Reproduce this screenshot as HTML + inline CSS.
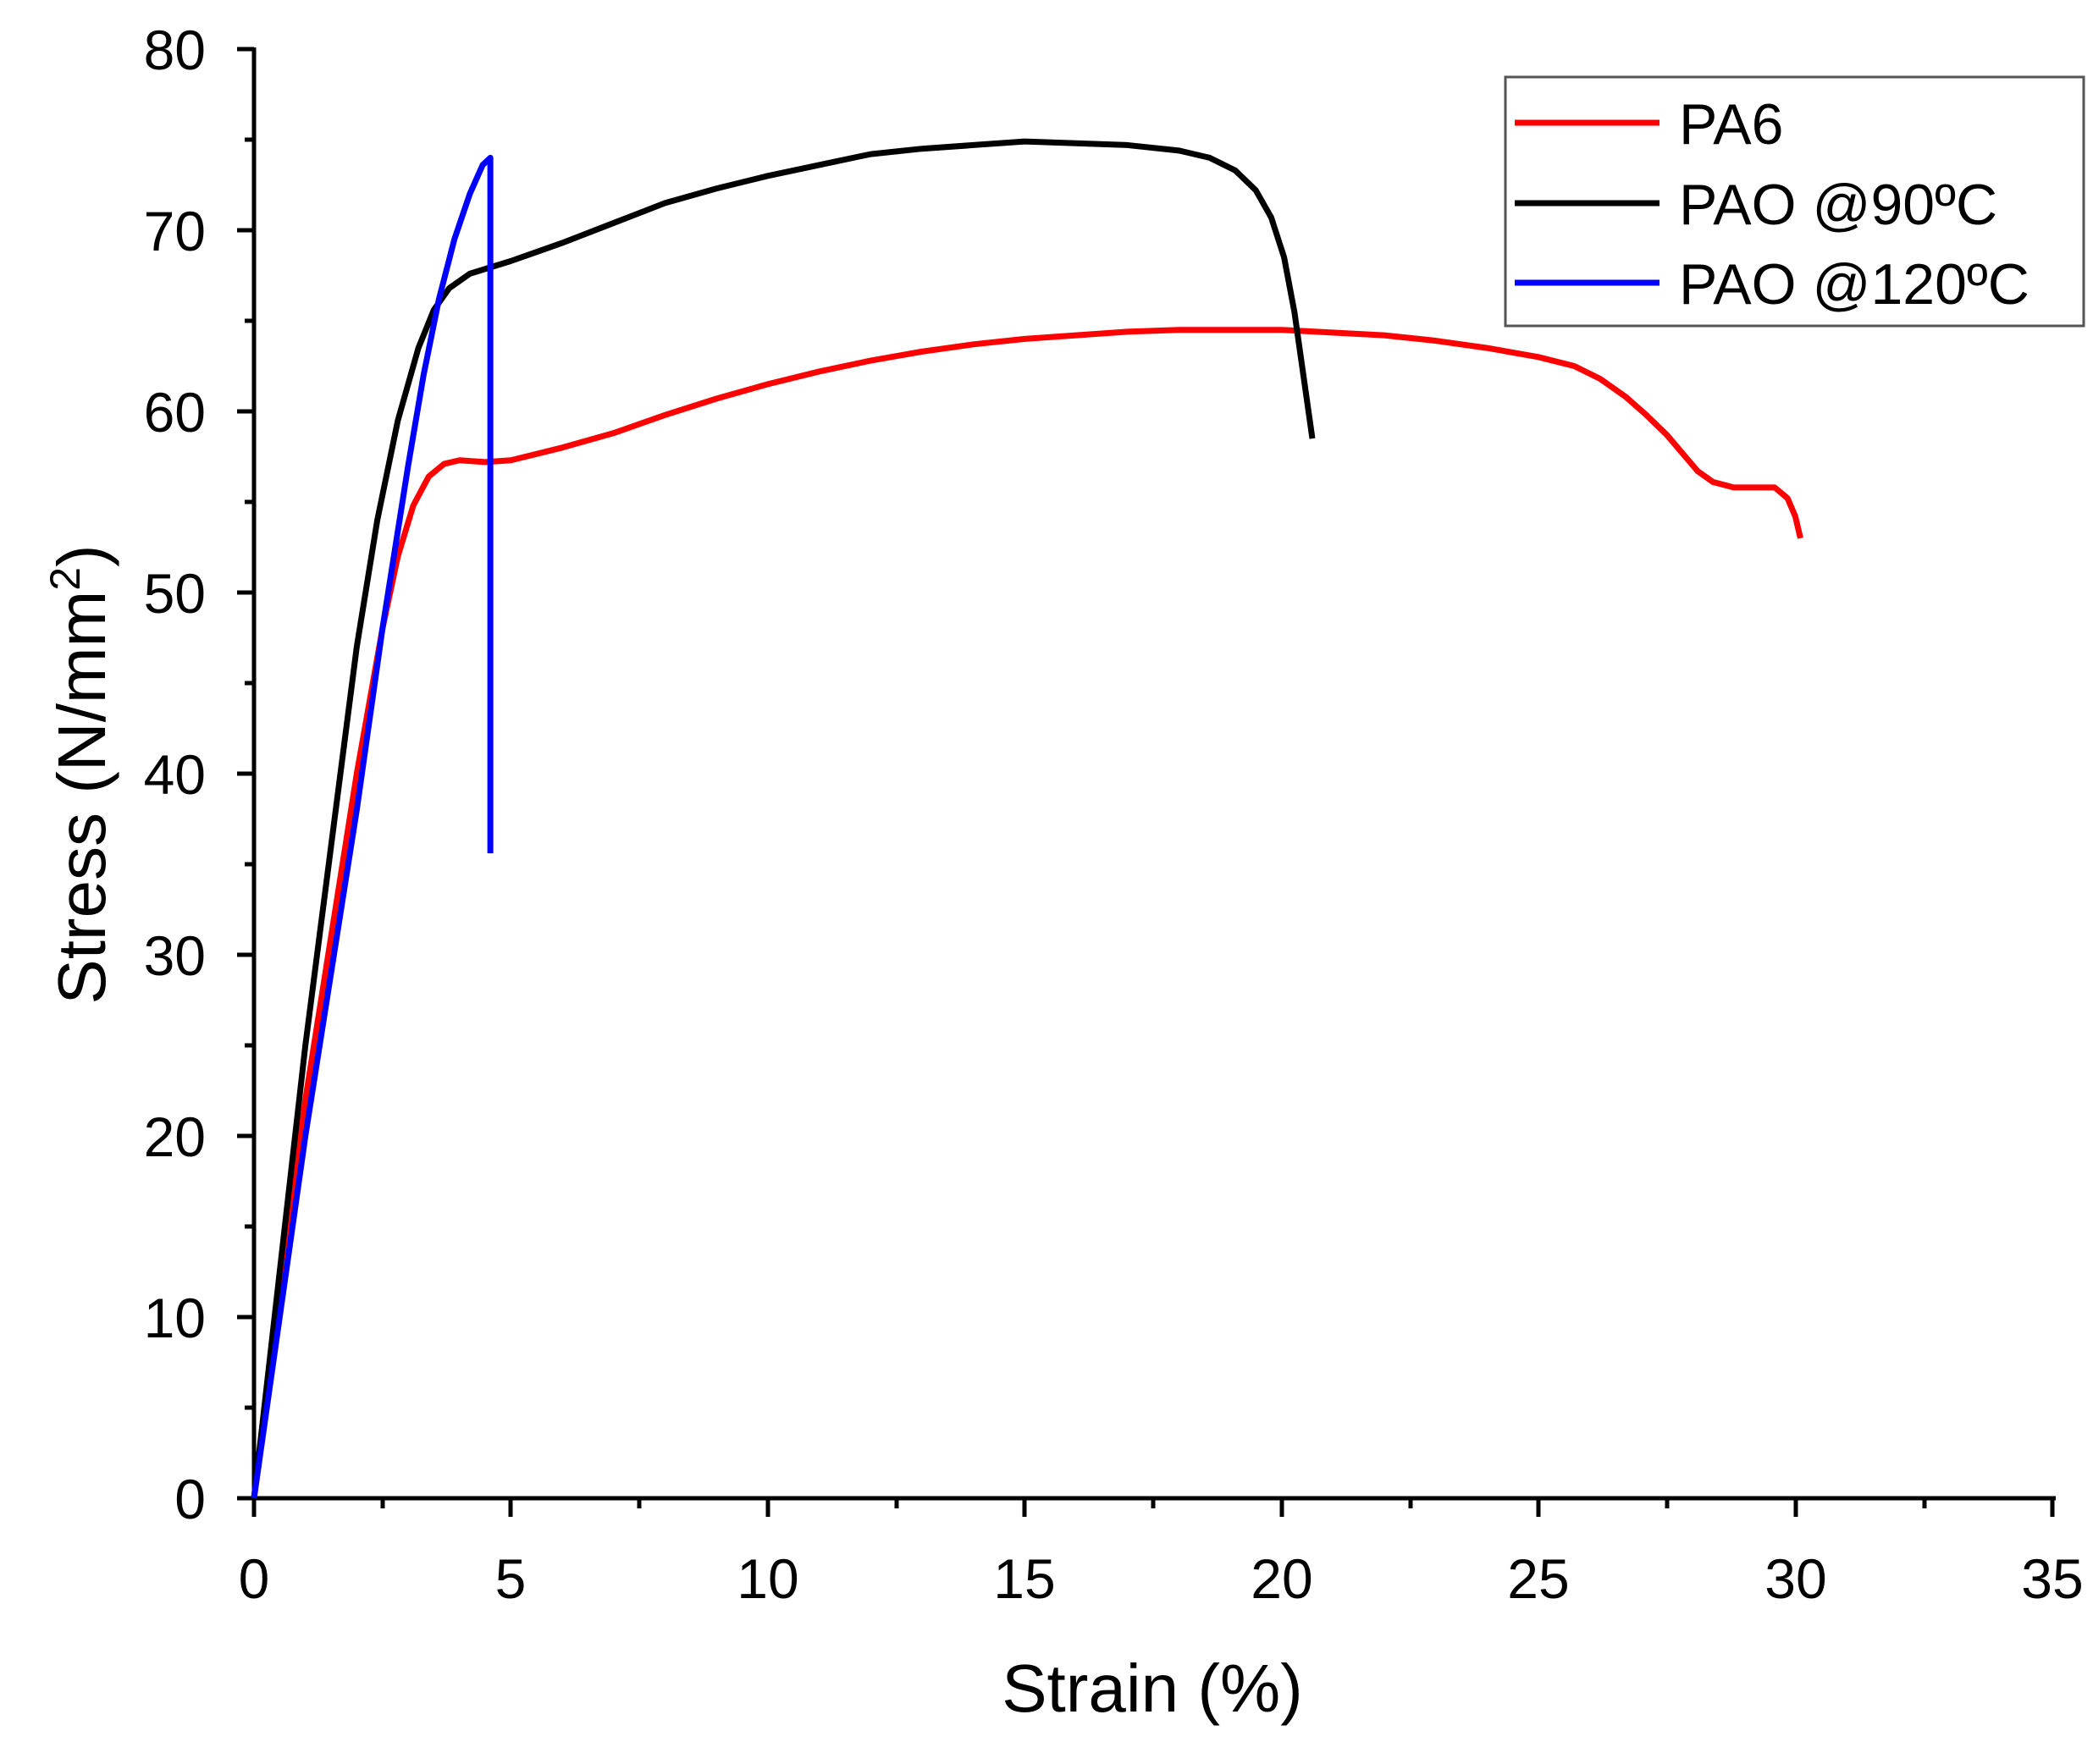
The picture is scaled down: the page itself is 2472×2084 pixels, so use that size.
<!DOCTYPE html>
<html><head><style>html,body{margin:0;padding:0;background:#fff}</style></head><body>
<svg width="2472" height="2079" xmlns="http://www.w3.org/2000/svg" font-family="Liberation Sans, Arial, sans-serif">
<rect width="2472" height="2079" fill="#fff"/>
<g stroke="#000" stroke-width="5" fill="none">
<line x1="300" y1="56" x2="300" y2="1792"/>
<line x1="280" y1="1770" x2="2428" y2="1770"/>
<path d="M280 1770H300M280 1556H300M280 1342H300M280 1128H300M280 914H300M280 700H300M280 486H300M280 272H300M280 58H300"/>
<path d="M289 1663H300M289 1449H300M289 1235H300M289 1021H300M289 807H300M289 593H300M289 379H300M289 165H300"/>
<path d="M300 1770V1792M603 1770V1792M907 1770V1792M1210 1770V1792M1514 1770V1792M1817 1770V1792M2121 1770V1792M2424 1770V1792"/>
<path d="M452 1770V1782M755 1770V1782M1059 1770V1782M1362 1770V1782M1666 1770V1782M1969 1770V1782M2273 1770V1782"/>
</g>
<g font-size="66" fill="#000" text-anchor="end">
<text x="243" y="1794">0</text><text x="243" y="1580">10</text><text x="243" y="1366">20</text><text x="243" y="1152">30</text><text x="243" y="938">40</text><text x="243" y="724">50</text><text x="243" y="510">60</text><text x="243" y="296">70</text><text x="243" y="82">80</text>
</g>
<g font-size="66" fill="#000" text-anchor="middle">
<text x="300" y="1888">0</text><text x="603" y="1888">5</text><text x="907" y="1888">10</text><text x="1210" y="1888">15</text><text x="1514" y="1888">20</text><text x="1817" y="1888">25</text><text x="2121" y="1888">30</text><text x="2424" y="1888">35</text>
</g>
<text x="1361" y="2022" font-size="80" text-anchor="middle">Strain (%)</text>
<text transform="translate(124,915) rotate(-90)" font-size="80" text-anchor="middle">Stress (N/mm<tspan font-size="50" dy="-30">2</tspan><tspan dy="30">)</tspan></text>
<g transform="translate(300,1770) scale(60.68,-21.4)" fill="none" stroke-width="7" stroke-linejoin="round">
<polyline vector-effect="non-scaling-stroke" stroke="#ff0000" points="0,0 1,22 2,40 2.5,48 2.8,52 3.1,54.8 3.4,56.4 3.7,57.1 4,57.3 4.5,57.2 5,57.3 6,58 7,58.8 8,59.8 9,60.7 10,61.5 11,62.2 12,62.8 13,63.3 14,63.7 15,64 16,64.2 17,64.4 18,64.5 20,64.5 22,64.2 23,63.9 24,63.5 25,63 25.7,62.5 26.2,61.8 26.7,60.8 27.1,59.8 27.5,58.7 27.8,57.7 28.1,56.7 28.4,56.1 28.8,55.8 29.6,55.8 29.85,55.2 30,54.2 30.1,53"/>
<polyline vector-effect="non-scaling-stroke" stroke="#000" points="0,0 1,25 2,47 2.4,54 2.8,59.5 3.2,63.5 3.5,65.6 3.8,66.8 4.2,67.6 5,68.3 6,69.3 7,70.4 8,71.5 9,72.3 10,73 11,73.6 12,74.2 13,74.5 14,74.7 15,74.9 16,74.8 17,74.7 18,74.4 18.6,74 19.1,73.3 19.5,72.2 19.8,70.7 20.05,68.5 20.25,65.5 20.4,62.5 20.55,59.5 20.6,58.5"/>
<polyline vector-effect="non-scaling-stroke" stroke="#0000ff" points="0,0 1,20 2,38 2.5,48 3,57 3.3,62 3.6,66.2 3.9,69.5 4.2,72 4.45,73.6 4.6,74 4.6,35.6"/>
</g>
<rect x="1778" y="91" width="683" height="294" fill="#fff" stroke="#555" stroke-width="3"/>
<g stroke-width="7"><line x1="1789" y1="145" x2="1960" y2="145" stroke="#ff0000"/><line x1="1789" y1="240" x2="1960" y2="240" stroke="#000"/><line x1="1789" y1="334" x2="1960" y2="334" stroke="#0000ff"/></g>
<g font-size="68" fill="#000"><text x="1983" y="170">PA6</text><text x="1983" y="265">PAO @90ºC</text><text x="1983" y="359">PAO @120ºC</text></g>
</svg>
</body></html>
